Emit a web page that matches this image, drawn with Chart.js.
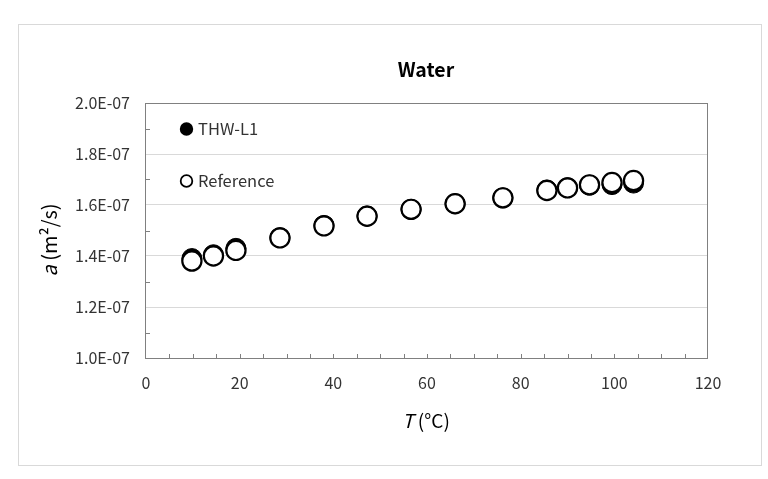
<!DOCTYPE html>
<html>
<head>
<meta charset="utf-8">
<script src="https://cdn.jsdelivr.net/npm/chart.js@4"></script>
<style>
  html, body { margin: 0; padding: 0; background: #ffffff; }
  #wrap { width: 768px; height: 479px; }
</style>
</head>
<body>
<div id="wrap"><canvas id="c" width="768" height="479"></canvas></div>
<script>
// ---- Data ----
const chartTitle = 'Water';
const temperatures = [9.8, 14.4, 19.2, 28.6, 38.0, 47.2, 56.6, 66.0, 76.2, 85.6, 90.0, 94.7, 99.5, 104.1];
const thwL1Values = [1.39e-7, 1.405e-7, 1.43e-7, 1.472e-7, 1.52e-7, 1.557e-7, 1.583e-7, 1.605e-7, 1.628e-7, 1.659e-7, 1.668e-7, 1.678e-7, 1.680e-7, 1.686e-7];
const referenceValues = [1.380e-7, 1.400e-7, 1.422e-7, 1.471e-7, 1.518e-7, 1.556e-7, 1.583e-7, 1.605e-7, 1.628e-7, 1.657e-7, 1.667e-7, 1.679e-7, 1.688e-7, 1.696e-7];
const yTickValues = [1.0e-7, 1.2e-7, 1.4e-7, 1.6e-7, 1.8e-7, 2.0e-7];
const yTickLabels = ['1.0E-07', '1.2E-07', '1.4E-07', '1.6E-07', '1.8E-07', '2.0E-07'];
const xTickValues = [0, 20, 40, 60, 80, 100, 120];
const xTickLabels = ['0', '20', '40', '60', '80', '100', '120'];
const seriesLabels = ['THW-L1', 'Reference'];

const FONT = "'Noto Sans CJK KR', 'Noto Sans', sans-serif";
const TEXT = '#333333';

const toPoints = (xs, ys) => xs.map((x, i) => ({ x: x, y: ys[i] }));

const decorPlugin = {
  id: 'decor',
  beforeDraw(chart) {
    const ctx = chart.ctx;
    ctx.save();
    ctx.fillStyle = '#ffffff';
    ctx.fillRect(0, 0, chart.width, chart.height);
    ctx.strokeStyle = '#d9d9d9';
    ctx.lineWidth = 1;
    ctx.strokeRect(18.5, 24.5, 743, 441);
    ctx.restore();
  },
  beforeDatasetsDraw(chart) {
    const ctx = chart.ctx;
    const a = chart.chartArea;
    const xs = chart.scales.x, ys = chart.scales.y;
    ctx.save();
    ctx.strokeStyle = '#808080';
    ctx.lineWidth = 1;
    ctx.strokeRect(Math.round(a.left) - 0.5, Math.round(a.top) + 0.5, Math.round(a.right - a.left), Math.round(a.bottom - a.top));
    // minor ticks x (every 5)
    ctx.beginPath();
    for (let v = 5; v < 120; v += 5) {
      const px = Math.round(xs.getPixelForValue(v)) + 0.5;
      ctx.moveTo(px, a.bottom);
      ctx.lineTo(px, a.bottom - 4);
    }
    // minor ticks y (every 0.1E-07)
    for (let k = 1; k < 10; k += 2) {
      const py = Math.round(ys.getPixelForValue(1e-7 + k * 1e-8)) + 0.5;
      ctx.moveTo(a.left, py);
      ctx.lineTo(a.left + 4, py);
    }
    ctx.stroke();
    ctx.restore();
  },
  afterDraw(chart) {
    const ctx = chart.ctx;
    ctx.save();
    // title
    ctx.fillStyle = '#000000';
    ctx.font = "bold 19.5px " + FONT;
    ctx.textAlign = 'center';
    ctx.textBaseline = 'middle';
    ctx.fillText(chartTitle, 426, 70);

    function drawParts(parts, cx, cy) {
      let total = 0;
      parts.forEach(p => { ctx.font = p.font; p.w = ctx.measureText(p.t).width; total += p.w; });
      let x = cx - total / 2;
      ctx.textAlign = 'left';
      ctx.textBaseline = 'middle';
      parts.forEach(p => { ctx.font = p.font; ctx.fillText(p.t, x, cy); x += p.w; });
    }
    ctx.fillStyle = '#000000';
    drawParts([
      { t: 'T', font: "italic 19px " + FONT },
      { t: ' (°C)', font: "19px " + FONT }
    ], 426, 421);

    ctx.save();
    ctx.translate(49, 240);
    ctx.rotate(-Math.PI / 2);
    drawParts([
      { t: 'a', font: "italic 20px " + FONT },
      { t: ' (m²/s)', font: "20px " + FONT }
    ], 0, 0);
    ctx.restore();

    // legend (inside plot area)
    const ds = chart.data.datasets;
    const items = [
      { y: 129, d: ds[0] },
      { y: 181, d: ds[1] }
    ];
    items.forEach(it => {
      ctx.beginPath();
      ctx.arc(186.5, it.y, 5.8, 0, Math.PI * 2);
      ctx.fillStyle = it.d.backgroundColor;
      ctx.fill();
      ctx.lineWidth = 1.8;
      ctx.strokeStyle = it.d.borderColor;
      ctx.stroke();
      ctx.fillStyle = TEXT;
      ctx.font = "16.5px " + FONT;
      ctx.textAlign = 'left';
      ctx.textBaseline = 'middle';
      ctx.fillText(it.d.label, 198, it.y);
    });
    ctx.restore();
  }
};

new Chart(document.getElementById('c'), {
  type: 'scatter',
  data: {
    datasets: [
      {
        label: seriesLabels[0],
        data: toPoints(temperatures, thwL1Values),
        backgroundColor: '#000000',
        borderColor: '#000000',
        borderWidth: 1,
        pointRadius: 10,
        pointHoverRadius: 10,
        order: 2
      },
      {
        label: seriesLabels[1],
        data: toPoints(temperatures, referenceValues),
        backgroundColor: '#ffffff',
        borderColor: '#000000',
        borderWidth: 2.2,
        pointRadius: 9.6,
        pointHoverRadius: 9.6,
        order: 1
      }
    ]
  },
  options: {
    responsive: false,
    animation: false,
    devicePixelRatio: 1,
    layout: { padding: { top: 103, right: 60, left: 0, bottom: 0 } },
    plugins: {
      legend: { display: false },
      title: { display: false },
      tooltip: { enabled: false }
    },
    scales: {
      x: {
        type: 'linear',
        min: 0,
        max: 120,
        afterFit(scale) { scale.height = 121; },
        afterBuildTicks(scale) { scale.ticks = xTickValues.map(v => ({ value: v })); },
        grid: { display: false, drawTicks: false },
        border: { display: false },
        ticks: {
          padding: 15,
          color: TEXT,
          font: { family: FONT, size: 16 },
          callback: (v, i) => xTickLabels[i]
        }
      },
      y: {
        type: 'linear',
        min: 1.0e-7,
        max: 2.0e-7,
        afterFit(scale) { scale.width = 146; },
        afterBuildTicks(scale) { scale.ticks = yTickValues.map(v => ({ value: v })); },
        grid: {
          drawTicks: false,
          color: (c) => (c.index === 0 || c.index === yTickValues.length - 1) ? 'rgba(0,0,0,0)' : '#d9d9d9',
          lineWidth: 1
        },
        border: { display: false },
        ticks: {
          padding: 16,
          color: TEXT,
          font: { family: FONT, size: 16 },
          callback: (v, i) => yTickLabels[i]
        }
      }
    }
  },
  plugins: [decorPlugin]
});
</script>
</body>
</html>
